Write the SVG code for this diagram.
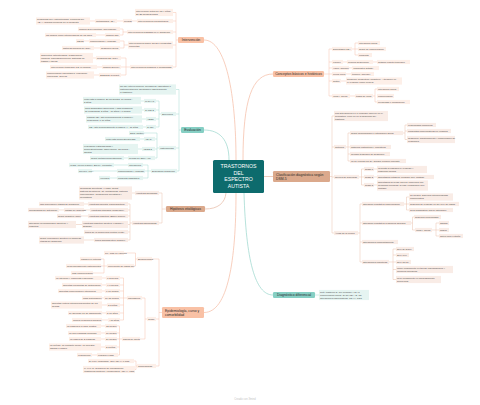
<svg xmlns="http://www.w3.org/2000/svg" width="480" height="405" viewBox="0 0 480 405">
<style>
.t{font-family:"Liberation Sans",Arial,sans-serif;font-size:2.4px;fill:#4a4a4a}
.m{font-family:"Liberation Sans",Arial,sans-serif;font-size:3.4px;fill:#2a2a2a}
.c{font-family:"Liberation Sans",Arial,sans-serif;font-size:5.2px;fill:#ffffff;text-anchor:middle}
.ls{fill:#fdefe8}.lt{fill:#e5f4f1}.lb{fill:#f9ece6}
.ms{fill:#f9c1a5}.mt{fill:#86cfc4}.mb{fill:#dba98c}
.cs{fill:none;stroke:#f6c3ad;stroke-width:.5}
.ct{fill:none;stroke:#a5dbd2;stroke-width:.5}
.cb{fill:none;stroke:#e9c0ad;stroke-width:.5}
.w{stroke-width:.8}
</style>
<rect width="480" height="405" fill="#ffffff"/>
<g id="connectors">
<path class="cs w" d="M236 160C236 95 226 40 204 40"/>
<path class="cs w" d="M243 160C243 100 252 74 273 74"/>
<path class="ct w" d="M229 160C229 140 220 130 204 130"/>
<path class="cb w" d="M264 176.5H273"/>
<path class="cb w" d="M226 193C225 203 218 209 205 209"/>
<path class="cs w" d="M236 193C236 260 228 312.5 204 312.5"/>
<path class="ct w" d="M244 193C246 260 255 295 273 295"/>
<path class="cs" d="M178 40H176M176 12.5V67M176 12.5H173M176 21H173M176 32H173M176 45H173M176 67H173M137 21H132M123 21H117M95 21H90M127 32H123M123 29V35M123 29H120M123 35H120M105 35H96M128 45H124M124 41V48M124 41H120M124 48H120M89 41H84M100 48H94M130 67H126M126 58V75M126 58H121M126 67H121M126 75H121M96 58H93M102 67H97M99 75H94"/>
<path class="ct" d="M181 130H179M179 89.5V171M179 89.5H176M179 114H176M179 148H176M179 171H177M161 114H159M159 101V127M159 101H156M159 110H156M159 119H156M159 127H156M144 101H141M144 110H142M146 119H142M146 127H143M159 148H157M157 133V158M157 133H144M157 139H155M157 149H155M157 158H155M144 139H140M142 149H138M128 158H124M151 171H148M148 165V178M148 165H143M148 171H145M148 178H143M128 165H114M117 171H92M117 178H110"/>
<path class="cb" d="M166 209H162M162 193V223M162 193H159M162 223H159M135 193H132M132 223H130M130 204V240M130 204H128M130 210H128M130 216H128M130 224.5H128M130 232H128M130 240H128M88 204H84M90 210H84M64 210H59M88 216H81M82 224.5H76M94 240H84"/>
<path class="cs" d="M162 312.5H159M159 259V366M159 259H152M159 319H156M159 366H156M137 259H135.5M135.5 253V266M135.5 253H124M135.5 266H134M107 266H104M104 259V273M104 259H101M104 266H101M104 273H93M147 319H145M145 298V339M145 298H142M145 339H140M127 298H123.5M123.5 278V320M123.5 278H120M123.5 285H120M123.5 291H120M123.5 298H120M123.5 305H120M123.5 313H120M123.5 320H120M106 278H102M106 285H102M105 291H102M104 298H102M107 305H102M106 313H102M108 320H102M122 339H119.5M119.5 326V355M119.5 326H117M119.5 333H117M119.5 339H117M119.5 347H117M119.5 355H118M105 326H101M105 333H101M105 339H101M105 347H101M97 355H92M137 366H136M136 361V369.5M136 361H134M136 369.5H135"/>
<path class="cs" d="M324 74H329M329 49V96M329 49H332M329 62H332M329 68H332M329 74H332M329 81H332M329 96H332M352 49H355M355 43V55M355 43H358M355 49H358M355 55H358M343 62H347M373 62H377M349 68H352M346 74H351M341 81H346M350 96H355M373 96H375M375 89V102M375 89H377M375 102H377"/>
<path class="cb" d="M330 176.5H332M332 116V233M332 116H334M332 147H334M332 177H334M332 233H334M346 147H348M348 133V161M348 133H350M348 147H350M348 154H350M348 161H350M403 133H405M405 125V139.5M405 125H407M405 131H407M405 139.5H407M359 177H361.5M361.5 169V185M361.5 169H364M361.5 177H364M361.5 185H364M374 169H377M374 177H377M374 185H377M358 233H360M360 204V262M360 204H362M360 223H362M360 242H362M360 262H362M404 204H406.5M406.5 197V210M406.5 197H409M406.5 204H409M406.5 210H409M411 223H412.5M412.5 217V230M412.5 217H414M412.5 230H415M432 230H436M436 223V236M436 223H439M436 230H439M436 236H439M389 262H393M393 249V279.5M393 249H396M393 255H396M393 262H396M393 269.5H396M393 279.5H396"/>
<path class="ct" d="M315 295H319"/>
</g>
<g id="central"><rect x="213" y="160" width="51" height="33" rx="1.5" fill="#0d6b6d"/><text class="c" x="238.5" y="168.3">TRASTORNOS<tspan x="238.5" dy="6.5">DEL</tspan><tspan x="238.5" dy="6.5">ESPECTRO</tspan><tspan x="238.5" dy="6.5">AUTISTA</tspan></text></g>
<g id="intervencion"><rect class="ms" x="178" y="37" width="26" height="6" rx="1.2"/><text class="m" x="191" y="41.2" text-anchor="middle">Intervención</text></g>
<g id="evaluacion"><rect class="mt" x="181" y="127" width="23" height="6" rx="1.2"/><text class="m" x="192.5" y="131.2" text-anchor="middle">Evaluación</text></g>
<g id="hipotesis"><rect class="mb" x="166" y="206" width="39" height="6" rx="1.2"/><text class="m" x="185.5" y="210.2" text-anchor="middle">Hipótesis etiológicas</text></g>
<g id="epidemiologia"><rect class="ms" x="162" y="307" width="42" height="11" rx="1.2"/><text class="m" x="165" y="311.7">Epidemiología, curso y<tspan x="165" dy="4">comorbilidad</tspan></text></g>
<g id="conceptos"><rect class="ms" x="273" y="71" width="51" height="6" rx="1.2"/><text class="m" x="298.5" y="75.2" text-anchor="middle">Conceptos básicos e históricos</text></g>
<g id="clasificacion"><rect class="mb" x="273" y="171" width="57" height="11" rx="1.2"/><text class="m" x="276" y="175.7">Clasificación diagnóstica según<tspan x="276" dy="4">DSM-5</tspan></text></g>
<g id="diferencial"><rect class="mt" x="273" y="292" width="42" height="6" rx="1.2"/><text class="m" x="294" y="296.2" text-anchor="middle">Diagnóstico diferencial</text></g>

<g id="i1"><rect class="ls" x="135" y="8.9" width="38" height="7.2"/><text class="t" x="136" y="11.85">intervención antes de los 4 años;<tspan x="136" dy="3">20-25 horas/semana</tspan></text></g>
<g id="i2"><rect class="ls" x="137" y="18.9" width="36" height="4.2"/><text class="t" x="138" y="21.85">intervenciones conductuales</text></g>
<g id="i3"><rect class="ls" x="127" y="29.9" width="46" height="4.2"/><text class="t" x="128" y="32.85">intervenciones basadas en el desarrollo</text></g>
<g id="i4"><rect class="ls" x="128" y="41.4" width="45" height="7.2"/><text class="t" x="129" y="44.35">intervenciones sobre áreas o conductas<tspan x="129" dy="3">concretas</tspan></text></g>
<g id="i5"><rect class="ls" x="130" y="64.9" width="43" height="4.2"/><text class="t" x="131" y="67.85">intervenciones globales o combinadas</text></g>
<g id="i2a"><rect class="ls" x="123" y="18.9" width="9" height="4.2"/><text class="t" x="124" y="21.85">Lovaas</text></g>
<g id="i2b"><rect class="ls" x="95" y="18.9" width="22" height="4.2"/><text class="t" x="96" y="21.85">metodología ABA</text></g>
<g id="i2c"><rect class="ls" x="36" y="17.4" width="54" height="7.2"/><text class="t" x="37" y="20.35">programas muy estructurados, principios del<tspan x="37" dy="3">ABA y análisis funcional de la conducta</tspan></text></g>
<g id="i3a"><rect class="ls" x="78" y="26.9" width="42" height="4.2"/><text class="t" x="79" y="29.85">modelo DIR Floortime (Greenspan)</text></g>
<g id="i3b"><rect class="ls" x="105" y="32.9" width="15" height="4.2"/><text class="t" x="106" y="35.85">modelo RDI</text></g>
<g id="i3c"><rect class="ls" x="45" y="32.9" width="51" height="4.2"/><text class="t" x="46" y="35.85">los padres como intermediarios de los hijos</text></g>
<g id="i4a"><rect class="ls" x="89" y="38.9" width="31" height="4.2"/><text class="t" x="90" y="41.85">comunicación y lenguaje</text></g>
<g id="i4b"><rect class="ls" x="76" y="38.9" width="8" height="4.2"/><text class="t" x="77" y="41.85">PECS</text></g>
<g id="i4c"><rect class="ls" x="100" y="45.9" width="20" height="4.2"/><text class="t" x="101" y="48.85">desarrollo social</text></g>
<g id="i4d"><rect class="ls" x="62" y="45.9" width="32" height="4.2"/><text class="t" x="63" y="48.85">historias sociales de Gray</text></g>
<g id="i5a"><rect class="ls" x="96" y="55.9" width="25" height="4.2"/><text class="t" x="97" y="58.85">programa TEACCH</text></g>
<g id="i5b"><rect class="ls" x="40" y="52.9" width="53" height="10.2"/><text class="t" x="41" y="55.85">ambientes estructurados, organización<tspan x="41" dy="3">espacial, agenda/secuencia, sistemas de</tspan><tspan x="41" dy="3">trabajo y tareas</tspan></text></g>
<g id="i5c"><rect class="ls" x="102" y="64.9" width="19" height="4.2"/><text class="t" x="103" y="67.85">modelo Denver</text></g>
<g id="i5d"><rect class="ls" x="50" y="64.9" width="47" height="4.2"/><text class="t" x="51" y="67.85">intervención temprana (12-48 meses)</text></g>
<g id="i5e"><rect class="ls" x="99" y="72.9" width="22" height="4.2"/><text class="t" x="100" y="75.85">SCERTS (Prizant)</text></g>
<g id="i5f"><rect class="ls" x="46" y="71.4" width="48" height="7.2"/><text class="t" x="47" y="74.35">comunicación espontánea, regulación<tspan x="47" dy="3">emocional, apoyos</tspan></text></g>

<g id="e1"><rect class="lt" x="119" y="84.4" width="57" height="10.2"/><text class="t" x="120" y="87.35">No hay intervenciones, pruebas de laboratorio o<tspan x="120" dy="3">instrumentos que identifiquen objetivamente</tspan><tspan x="120" dy="3">el trastorno.</tspan></text></g>
<g id="e2"><rect class="lt" x="161" y="111.9" width="15" height="4.2"/><text class="t" x="162" y="114.85">Screening</text></g>
<g id="e3"><rect class="lt" x="159" y="145.9" width="17" height="4.2"/><text class="t" x="160" y="148.85">Instrumentos</text></g>
<g id="e4"><rect class="lt" x="151" y="168.9" width="26" height="4.2"/><text class="t" x="152" y="171.85">Evaluación desarrollo</text></g>
<g id="e2a"><rect class="lt" x="144" y="98.9" width="12" height="4.2"/><text class="t" x="145" y="101.85">M-CHAT</text></g>
<g id="e2b"><rect class="lt" x="83" y="96.9" width="58" height="7.2"/><text class="t" x="84" y="99.85">entrevista a padres: 20 preguntas; 16 meses -<tspan x="84" dy="3">3 años</tspan></text></g>
<g id="e2c"><rect class="lt" x="144" y="107.9" width="12" height="4.2"/><text class="t" x="145" y="110.85">CARS-2</text></g>
<g id="e2d"><rect class="lt" x="84" y="106.4" width="58" height="7.2"/><text class="t" x="85" y="109.35">para diagnóstico diferencial y para desarrollo<tspan x="85" dy="3">de programas; 2 años - 10 años y 0 meses</tspan></text></g>
<g id="e2e"><rect class="lt" x="146" y="116.9" width="10" height="4.2"/><text class="t" x="147" y="119.85">ASSQ</text></g>
<g id="e2f"><rect class="lt" x="86" y="115.4" width="56" height="7.2"/><text class="t" x="87" y="118.35">cribado TEA alto funcionamiento a padres y<tspan x="87" dy="3">profesores; 7-16 años</tspan></text></g>
<g id="e2g"><rect class="lt" x="146" y="124.9" width="10" height="4.2"/><text class="t" x="147" y="127.85">CAST</text></g>
<g id="e2h"><rect class="lt" x="88" y="124.9" width="55" height="4.2"/><text class="t" x="89" y="127.85">TEA alto funcionamiento a padres: 4 - 11 años</text></g>
<g id="e3a"><rect class="lt" x="129" y="130.9" width="15" height="4.2"/><text class="t" x="130" y="133.85">SCQ (Rutter)</text></g>
<g id="e3b"><rect class="lt" x="144" y="136.9" width="11" height="4.2"/><text class="t" x="145" y="139.85">ADI-R</text></g>
<g id="e3c"><rect class="lt" x="105" y="136.9" width="35" height="4.2"/><text class="t" x="106" y="139.85">entrevista semiestructurada</text></g>
<g id="e3d"><rect class="lt" x="142" y="146.9" width="13" height="4.2"/><text class="t" x="143" y="149.85">ADOS-2</text></g>
<g id="e3e"><rect class="lt" x="83" y="143.9" width="55" height="10.2"/><text class="t" x="84" y="146.85">evaluación estandarizada y<tspan x="84" dy="3">semiestructurada; observación; 12 meses -</tspan><tspan x="84" dy="3">adultos</tspan></text></g>
<g id="e3f"><rect class="lt" x="128" y="155.9" width="27" height="4.2"/><text class="t" x="129" y="158.85">prueba de Sally-Ann</text></g>
<g id="e3g"><rect class="lt" x="90" y="155.9" width="34" height="4.2"/><text class="t" x="91" y="158.85">déficit metarrepresentacional</text></g>
<g id="e4a"><rect class="lt" x="128" y="162.9" width="15" height="4.2"/><text class="t" x="129" y="165.85">inteligencia</text></g>
<g id="e4b"><rect class="lt" x="69" y="162.9" width="45" height="4.2"/><text class="t" x="70" y="165.85">WISC, Merrill-Palmer, Bayley, McCarthy</text></g>
<g id="e4c"><rect class="lt" x="117" y="168.9" width="28" height="4.2"/><text class="t" x="118" y="171.85">comunicación y lenguaje</text></g>
<g id="e4d"><rect class="lt" x="78" y="168.9" width="14" height="4.2"/><text class="t" x="79" y="171.85">Reynell, ITPA</text></g>
<g id="e4e"><rect class="lt" x="117" y="175.9" width="26" height="4.2"/><text class="t" x="118" y="178.85">conducta adaptativa</text></g>
<g id="e4f"><rect class="lt" x="99" y="175.9" width="11" height="4.2"/><text class="t" x="100" y="178.85">Vineland</text></g>

<g id="h1"><rect class="lb" x="135" y="190.9" width="24" height="4.2"/><text class="t" x="136" y="193.85">Hipótesis biológicas</text></g>
<g id="h2"><rect class="lb" x="132" y="220.9" width="27" height="4.2"/><text class="t" x="133" y="223.85">Hipótesis psicológicas</text></g>
<g id="h1a"><rect class="lb" x="79" y="186.4" width="53" height="13.2"/><text class="t" x="80" y="189.35">anomalías genéticas, X frágil, déficit<tspan x="80" dy="3">sistema serotonina, alt. metabólicas, sistema</tspan><tspan x="80" dy="3">inmunológico, condiciones prenatales y</tspan><tspan x="80" dy="3">perinatales</tspan></text></g>
<g id="h2a"><rect class="lb" x="88" y="201.9" width="40" height="4.2"/><text class="t" x="89" y="204.85">Hipótesis parental (psicoanalítica)</text></g>
<g id="h2b"><rect class="lb" x="39" y="201.9" width="45" height="4.2"/><text class="t" x="40" y="204.85">fallo superación etapas de desarrollo</text></g>
<g id="h2c"><rect class="lb" x="90" y="207.9" width="38" height="4.2"/><text class="t" x="91" y="210.85">Hipótesis etológica (Tinbergen)</text></g>
<g id="h2d"><rect class="lb" x="64" y="207.9" width="20" height="4.2"/><text class="t" x="65" y="210.85">estado de ansiedad</text></g>
<g id="h2e"><rect class="lb" x="28" y="207.9" width="31" height="4.2"/><text class="t" x="29" y="210.85">mecanismos de activación</text></g>
<g id="h2f"><rect class="lb" x="88" y="213.9" width="40" height="4.2"/><text class="t" x="89" y="216.85">Hipótesis cognitiva (Baron-Cohen)</text></g>
<g id="h2g"><rect class="lb" x="57" y="213.9" width="24" height="4.2"/><text class="t" x="58" y="216.85">déficit cognitivo (ToM)</text></g>
<g id="h2h"><rect class="lb" x="82" y="220.9" width="46" height="7.2"/><text class="t" x="83" y="223.85">Hipótesis cognitivo afectiva (Hobson y<tspan x="83" dy="3">Sigman)</tspan></text></g>
<g id="h2i"><rect class="lb" x="28" y="220.9" width="48" height="7.2"/><text class="t" x="29" y="223.85">alteración neurobiológica (afectiva) y<tspan x="29" dy="3">cognitiva</tspan></text></g>
<g id="h2j"><rect class="lb" x="84" y="229.9" width="44" height="4.2"/><text class="t" x="85" y="232.85">teoría de la coherencia central (Frith)</text></g>
<g id="h2k"><rect class="lb" x="94" y="237.9" width="34" height="4.2"/><text class="t" x="95" y="240.85">teoría socioafectiva (Garner)</text></g>
<g id="h2l"><rect class="lb" x="39" y="236.4" width="45" height="7.2"/><text class="t" x="40" y="239.35">déficit vinculación afectiva en primeras<tspan x="40" dy="3">etapas de desarrollo</tspan></text></g>

<g id="p1"><rect class="ls" x="137" y="256.9" width="15" height="4.2"/><text class="t" x="138" y="259.85">Epidemiología</text></g>
<g id="p1a"><rect class="ls" x="104" y="250.9" width="20" height="4.2"/><text class="t" x="105" y="253.85">1%, más en varones</text></g>
<g id="p1b"><rect class="ls" x="107" y="263.9" width="27" height="4.2"/><text class="t" x="108" y="266.85">incremento de casos por</text></g>
<g id="p1c"><rect class="ls" x="80" y="256.9" width="21" height="4.2"/><text class="t" x="81" y="259.85">cambio en criterios</text></g>
<g id="p1d"><rect class="ls" x="66" y="263.9" width="35" height="4.2"/><text class="t" x="67" y="266.85">perfeccionamiento instrumentos</text></g>
<g id="p1e"><rect class="ls" x="71" y="270.9" width="22" height="4.2"/><text class="t" x="72" y="273.85">más concienciación</text></g>
<g id="p2"><rect class="ls" x="147" y="316.9" width="9" height="4.2"/><text class="t" x="148" y="319.85">Curso</text></g>
<g id="p3"><rect class="ls" x="137" y="363.9" width="19" height="4.2"/><text class="t" x="138" y="366.85">Comorbilidad</text></g>
<g id="p2a"><rect class="ls" x="127" y="295.9" width="15" height="4.2"/><text class="t" x="128" y="298.85">indicadores</text></g>
<g id="p2b"><rect class="ls" x="122" y="336.9" width="18" height="4.2"/><text class="t" x="123" y="339.85">signos de alerta</text></g>
<g id="a1"><rect class="ls" x="106" y="275.9" width="14" height="4.2"/><text class="t" x="107" y="278.85">0-2 meses</text></g>
<g id="d1"><rect class="ls" x="55" y="275.9" width="47" height="4.2"/><text class="t" x="56" y="278.85">no atención y respuesta emocional</text></g>
<g id="a2"><rect class="ls" x="106" y="282.9" width="14" height="4.2"/><text class="t" x="107" y="285.85">4-6 meses</text></g>
<g id="d2"><rect class="ls" x="62" y="282.9" width="40" height="4.2"/><text class="t" x="63" y="285.85">dificultad conductas de anticipación</text></g>
<g id="a3"><rect class="ls" x="105" y="288.9" width="15" height="4.2"/><text class="t" x="106" y="291.85">6-10 meses</text></g>
<g id="d3"><rect class="ls" x="58" y="288.9" width="44" height="4.2"/><text class="t" x="59" y="291.85">dificultad comunicación intencional</text></g>
<g id="a4"><rect class="ls" x="104" y="295.9" width="16" height="4.2"/><text class="t" x="105" y="298.85">10-15 meses</text></g>
<g id="d4"><rect class="ls" x="82" y="295.9" width="20" height="4.2"/><text class="t" x="83" y="298.85">mala anticipación</text></g>
<g id="a5"><rect class="ls" x="107" y="302.9" width="13" height="4.2"/><text class="t" x="108" y="305.85">3-5 años</text></g>
<g id="d5"><rect class="ls" x="51" y="301.4" width="51" height="7.2"/><text class="t" x="52" y="304.35">dificultad lectura intenciones/mentes de los<tspan x="52" dy="3">demás</tspan></text></g>
<g id="a6"><rect class="ls" x="106" y="310.9" width="14" height="4.2"/><text class="t" x="107" y="313.85">5-10 años</text></g>
<g id="d6"><rect class="ls" x="68" y="310.9" width="34" height="4.2"/><text class="t" x="69" y="313.85">se aprecian TP de aislamiento</text></g>
<g id="a7"><rect class="ls" x="108" y="317.9" width="12" height="4.2"/><text class="t" x="109" y="320.85">+18 años</text></g>
<g id="d7"><rect class="ls" x="72" y="317.9" width="30" height="4.2"/><text class="t" x="73" y="320.85">mejora relaciones sociales</text></g>
<g id="s1"><rect class="ls" x="105" y="323.9" width="12" height="4.2"/><text class="t" x="106" y="326.85">12 meses</text></g>
<g id="sd1"><rect class="ls" x="66" y="323.9" width="35" height="4.2"/><text class="t" x="67" y="326.85">no balbucea ni hace gestos</text></g>
<g id="s2"><rect class="ls" x="105" y="330.9" width="12" height="4.2"/><text class="t" x="106" y="333.85">16 meses</text></g>
<g id="sd2"><rect class="ls" x="68" y="330.9" width="33" height="4.2"/><text class="t" x="69" y="333.85">no dice palabras sencillas</text></g>
<g id="s3"><rect class="ls" x="105" y="336.9" width="12" height="4.2"/><text class="t" x="106" y="339.85">24 meses</text></g>
<g id="sd3"><rect class="ls" x="69" y="336.9" width="32" height="4.2"/><text class="t" x="70" y="339.85">no frases de 2 palabras</text></g>
<g id="s4"><rect class="ls" x="105" y="344.9" width="12" height="4.2"/><text class="t" x="106" y="347.85">2-3 años</text></g>
<g id="sd4"><rect class="ls" x="49" y="343.4" width="52" height="7.2"/><text class="t" x="50" y="346.35">no señala, no contacto ocular, no muestra,<tspan x="50" dy="3">aislado o pasivo</tspan></text></g>
<g id="s5"><rect class="ls" x="97" y="352.9" width="21" height="4.2"/><text class="t" x="98" y="355.85">cualquier edad</text></g>
<g id="sd5"><rect class="ls" x="77" y="352.9" width="15" height="4.2"/><text class="t" x="78" y="355.85">regresiones</text></g>
<g id="c1"><rect class="ls" x="88" y="358.9" width="46" height="4.2"/><text class="t" x="89" y="361.85">DI 70% (ansiedad), 30% TDAH o más</text></g>
<g id="c2"><rect class="ls" x="83" y="365.9" width="52" height="7.2"/><text class="t" x="84" y="368.85">el 44% Tr. desarrollo de coordinación<tspan x="84" dy="3">(trastornos motores y sensoriales), TDAH, TOC</tspan></text></g>

<g id="k1"><rect class="ls" x="332" y="46.9" width="20" height="4.2"/><text class="t" x="333" y="49.85">Dificultades TEA</text></g>
<g id="k1a"><rect class="ls" x="358" y="40.9" width="22" height="4.2"/><text class="t" x="359" y="43.85">interacción social</text></g>
<g id="k1b"><rect class="ls" x="358" y="46.9" width="28" height="4.2"/><text class="t" x="359" y="49.85">déficit de comunicación</text></g>
<g id="k1c"><rect class="ls" x="358" y="52.9" width="14" height="4.2"/><text class="t" x="359" y="55.85">conducta</text></g>
<g id="k2"><rect class="ls" x="332" y="59.9" width="11" height="4.2"/><text class="t" x="333" y="62.85">Kanner</text></g>
<g id="k2a"><rect class="ls" x="347" y="59.9" width="26" height="4.2"/><text class="t" x="348" y="62.85">primera descripción</text></g>
<g id="k2b"><rect class="ls" x="377" y="59.9" width="33" height="4.2"/><text class="t" x="378" y="62.85">autismo infantil temprano</text></g>
<g id="k3"><rect class="ls" x="332" y="65.9" width="17" height="4.2"/><text class="t" x="333" y="68.85">Hans Asperger</text></g>
<g id="k3a"><rect class="ls" x="352" y="65.9" width="27" height="4.2"/><text class="t" x="353" y="68.85">"psicopatía autista"</text></g>
<g id="k4"><rect class="ls" x="332" y="71.9" width="14" height="4.2"/><text class="t" x="333" y="74.85">Lorna Wing</text></g>
<g id="k4a"><rect class="ls" x="351" y="71.9" width="23" height="4.2"/><text class="t" x="352" y="74.85">término Asperger</text></g>
<g id="k5"><rect class="ls" x="332" y="78.9" width="9" height="4.2"/><text class="t" x="333" y="81.85">Rutter</text></g>
<g id="k5a"><rect class="ls" x="346" y="77.4" width="56" height="7.2"/><text class="t" x="347" y="80.35">síndrome conductual (cognitivo). Alteración en<tspan x="347" dy="3">el lenguaje como nuclear</tspan></text></g>
<g id="k6"><rect class="ls" x="332" y="93.9" width="18" height="4.2"/><text class="t" x="333" y="96.85">Wing y Gould</text></g>
<g id="k6a"><rect class="ls" x="355" y="93.9" width="18" height="4.2"/><text class="t" x="356" y="96.85">triada de Wing</text></g>
<g id="k6b"><rect class="ls" x="377" y="86.9" width="22" height="4.2"/><text class="t" x="378" y="89.85">interacción social</text></g>
<g id="k6c"><rect class="ls" x="377" y="93.9" width="17" height="4.2"/><text class="t" x="378" y="96.85">comunicación</text></g>
<g id="k6d"><rect class="ls" x="377" y="99.9" width="33" height="4.2"/><text class="t" x="378" y="102.85">flexibilidad e imaginación</text></g>

<g id="q1"><rect class="lb" x="334" y="110.9" width="54" height="10.2"/><text class="t" x="335" y="113.85">Las alteraciones en el lenguaje influyen en el<tspan x="335" dy="3">pronóstico, pero no en la definición del</tspan><tspan x="335" dy="3">trastorno</tspan></text></g>
<g id="q2"><rect class="lb" x="334" y="144.9" width="12" height="4.2"/><text class="t" x="335" y="147.85">Criterios</text></g>
<g id="q2a"><rect class="lb" x="350" y="130.9" width="53" height="4.2"/><text class="t" x="351" y="133.85">déficit comunicación e interacción social</text></g>
<g id="q2a1"><rect class="lb" x="407" y="122.9" width="29" height="4.2"/><text class="t" x="408" y="125.85">reciprocidad emocional</text></g>
<g id="q2a2"><rect class="lb" x="407" y="128.9" width="44" height="4.2"/><text class="t" x="408" y="131.85">conductas comunicativas no verbales</text></g>
<g id="q2a3"><rect class="lb" x="407" y="135.9" width="48" height="7.2"/><text class="t" x="408" y="138.85">desarrollo, mantenimiento y comprensión de<tspan x="408" dy="3">relaciones</tspan></text></g>
<g id="q2b"><rect class="lb" x="350" y="144.9" width="41" height="4.2"/><text class="t" x="351" y="147.85">patrones restrictivos y repetitivos</text></g>
<g id="q2c"><rect class="lb" x="350" y="151.9" width="40" height="4.2"/><text class="t" x="351" y="154.85">periodo temprano de desarrollo</text></g>
<g id="q2d"><rect class="lb" x="350" y="158.9" width="56" height="4.2"/><text class="t" x="351" y="161.85">no se explica por DI, aunque pueden coexistir</text></g>
<g id="q3"><rect class="lb" x="334" y="174.9" width="25" height="4.2"/><text class="t" x="335" y="177.85">Niveles de gravedad</text></g>
<g id="q3a"><rect class="lb" x="364" y="166.9" width="10" height="4.2"/><text class="t" x="365" y="169.85">grado 1</text></g>
<g id="q3b"><rect class="lb" x="377" y="165.9" width="50" height="7.2"/><text class="t" x="378" y="168.85">necesita ayuda/apoyo; lenguaje y<tspan x="378" dy="3">cognición normal</tspan></text></g>
<g id="q3c"><rect class="lb" x="364" y="174.9" width="10" height="4.2"/><text class="t" x="365" y="177.85">grado 2</text></g>
<g id="q3d"><rect class="lb" x="377" y="174.9" width="57" height="4.2"/><text class="t" x="378" y="177.85">dificultades notables; lenguaje muy limitado</text></g>
<g id="q3e"><rect class="lb" x="364" y="182.9" width="10" height="4.2"/><text class="t" x="365" y="185.85">grado 3</text></g>
<g id="q3f"><rect class="lb" x="377" y="180.4" width="51" height="10.2"/><text class="t" x="378" y="183.35">dificultades severas; solo se comunica con<tspan x="378" dy="3">personas cercanas; ayuda; vocabulario muy</tspan><tspan x="378" dy="3">limitado</tspan></text></g>
<g id="q4"><rect class="lb" x="334" y="230.9" width="24" height="4.2"/><text class="t" x="335" y="233.85">Áreas de la clínica</text></g>
<g id="q4a"><rect class="lb" x="362" y="201.9" width="42" height="4.2"/><text class="t" x="363" y="204.85">alteración cualitativa comunicación</text></g>
<g id="q4a1"><rect class="lb" x="409" y="193.4" width="44" height="7.2"/><text class="t" x="410" y="196.35">18 meses: ausencia intencionalidad<tspan x="410" dy="3">comunicativa</tspan></text></g>
<g id="q4a2"><rect class="lb" x="409" y="201.9" width="50" height="4.2"/><text class="t" x="410" y="204.85">ausencia de lenguaje en 30-40% de casos</text></g>
<g id="q4a3"><rect class="lb" x="409" y="207.9" width="44" height="4.2"/><text class="t" x="410" y="210.85">área pragmática: mayor alteración</text></g>
<g id="q4b"><rect class="lb" x="362" y="220.9" width="49" height="4.2"/><text class="t" x="363" y="223.85">alteración cualitativa relaciones sociales</text></g>
<g id="q4b1"><rect class="lb" x="414" y="214.9" width="27" height="4.2"/><text class="t" x="415" y="217.85">ausencia reciprocidad</text></g>
<g id="q4b2"><rect class="lb" x="415" y="227.9" width="17" height="4.2"/><text class="t" x="416" y="230.85">Wing y Gould</text></g>
<g id="q4b3"><rect class="lb" x="439" y="220.9" width="10" height="4.2"/><text class="t" x="440" y="223.85">aislado</text></g>
<g id="q4b4"><rect class="lb" x="439" y="227.9" width="10" height="4.2"/><text class="t" x="440" y="230.85">pasivo</text></g>
<g id="q4b5"><rect class="lb" x="439" y="233.9" width="24" height="4.2"/><text class="t" x="440" y="236.85">activo pero extraño</text></g>
<g id="q4c"><rect class="lb" x="362" y="239.9" width="36" height="4.2"/><text class="t" x="363" y="242.85">alteraciones comportamiento</text></g>
<g id="q4d"><rect class="lb" x="362" y="259.9" width="27" height="4.2"/><text class="t" x="363" y="262.85">alteraciones cognitivas</text></g>
<g id="q4d1"><rect class="lb" x="396" y="246.9" width="18" height="4.2"/><text class="t" x="397" y="249.85">50% DI grave</text></g>
<g id="q4d2"><rect class="lb" x="396" y="252.9" width="13" height="4.2"/><text class="t" x="397" y="255.85">20% leve</text></g>
<g id="q4d3"><rect class="lb" x="396" y="259.9" width="15" height="4.2"/><text class="t" x="397" y="262.85">30% sin DI</text></g>
<g id="q4d4"><rect class="lb" x="396" y="265.9" width="57" height="7.2"/><text class="t" x="397" y="268.85">mejor rendimiento en tareas visoespaciales y<tspan x="397" dy="3">memoria mecánica</tspan></text></g>
<g id="q4d5"><rect class="lb" x="396" y="275.9" width="45" height="7.2"/><text class="t" x="397" y="278.85">peor rendimiento en procesamiento<tspan x="397" dy="3">secuencial</tspan></text></g>

<g id="g1"><rect class="lt" x="319" y="289.9" width="50" height="10.2"/><text class="t" x="320" y="292.85">Rett, trastorno D. del lenguaje y de la<tspan x="320" dy="3">comunicación social, DI del TEA, E. las</tspan><tspan x="320" dy="3">alteraciones psicomotoras, TDAH, TOC</tspan></text></g>
<text x="245" y="400" font-family="Liberation Sans, Arial, sans-serif" font-size="2.6" fill="#c4c4c4" text-anchor="middle">Creado con Xmind</text>
</svg>
